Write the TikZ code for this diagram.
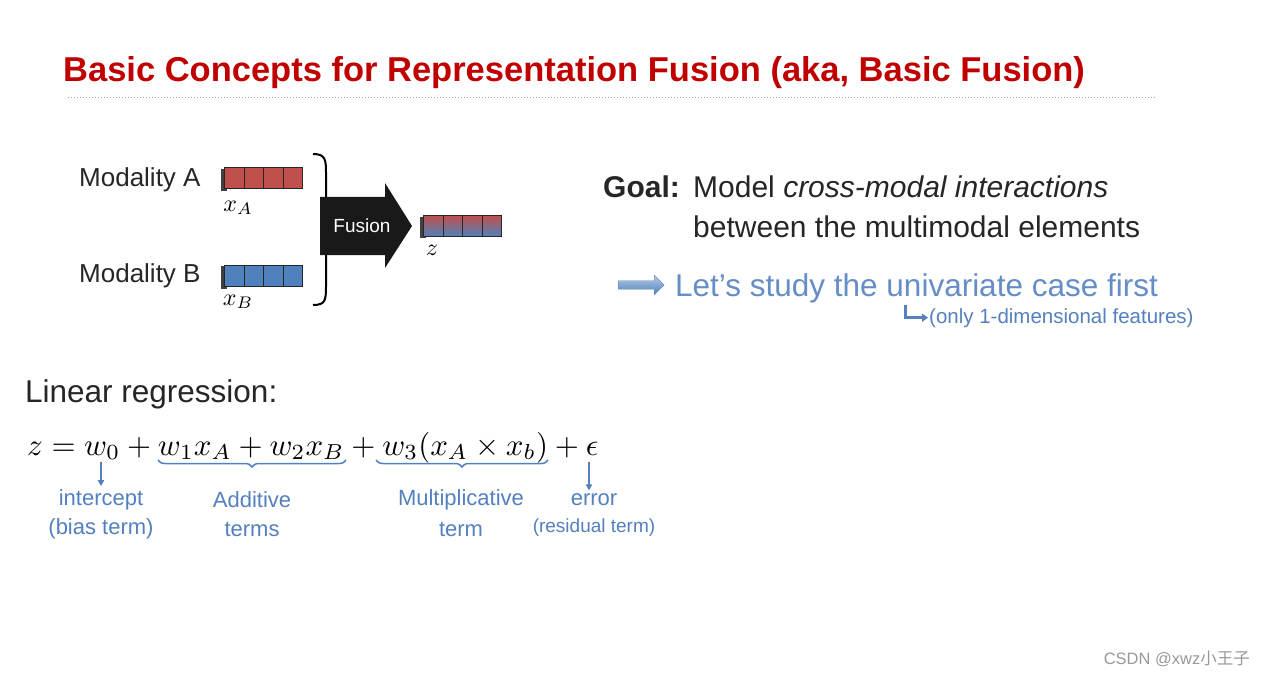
\documentclass[tikz,border=0pt]{standalone}
\usepackage{fontspec}
\usepackage{graphicx}
\setmainfont{Liberation Sans}
\newfontfamily\cjk{Noto Sans CJK SC}
\usetikzlibrary{decorations.pathreplacing,arrows.meta,shapes.arrows}
\definecolor{ttl}{RGB}{192,0,0}
\definecolor{rd}{RGB}{192,80,77}
\definecolor{bl}{RGB}{79,129,189}
\definecolor{lb}{RGB}{84,128,192}
\definecolor{dk}{RGB}{38,38,38}
\newcommand{\fs}[1]{\fontsize{#1}{#1}\selectfont}
\tikzset{
 cell/.style={draw=black!85,line width=1.2pt,minimum width=19.5pt,minimum height=21pt,inner sep=0},
 lbl/.style={text=lb,font=\fs{22}},
 note/.style={-{Triangle[width=6pt,length=6pt]},lb,line width=1.5pt},
}
\begin{document}
\begin{tikzpicture}[x=1pt,y=-1pt]
\useasboundingbox[fill=white] (0,0) rectangle (1265,676);
\node[anchor=base west,text=ttl,font=\bfseries\fs{34.5},inner sep=0] (title) at (63,82) {Basic Concepts for Representation Fusion (aka, Basic Fusion)};
\draw[black!35,dotted,line width=1pt] (68,98) -- (1155,98);
% modalities
\node[anchor=west,font=\fs{26},text=dk,inner sep=0] (ma) at (79,180) {Modality A};
\node[anchor=west,font=\fs{26},text=dk,inner sep=0] (mb) at (79,276) {Modality B};
\fill[black!75] (221,169) rectangle (227,191);
\foreach \i in {0,...,3}{\node[cell,fill=rd,anchor=north west] (a\i) at (224+\i*19.5,167) {};}
\fill[black!75] (221,266) rectangle (227,289);
\foreach \i in {0,...,3}{\node[cell,fill=bl,anchor=north west] (b\i) at (224+\i*19.5,265) {};}
\node (xa) at (238,208) {\scalebox{2.4}{$x_A$}};
\node (xb) at (238,302) {\scalebox{2.4}{$x_B$}};
\draw[line width=2pt] (313,154) .. controls (326,154) and (326,160) .. (326,175) -- (326,284) .. controls (326,300) and (326,305) .. (313,305);
\fill[black!90] (320,197) -- (385,197) -- (385,183) -- (412,226) -- (385,268) -- (385,255) -- (320,255) -- cycle;
\node[text=white,font=\fs{19}] (fu) at (362,226) {Fusion};
\fill[black!75] (420,217) rectangle (426,238);
\foreach \i in {0,...,3}{\node[cell,top color=rd,bottom color=bl,anchor=north west] (z\i) at (423+\i*19.5,215) {};}
\node (zl) at (432,250) {\scalebox{2.4}{$z$}};
% goal
\node[anchor=base west,font=\bfseries\fs{30},text=dk,inner sep=0] (goal) at (603,198) {Goal:};
\node[anchor=base west,font=\fs{30},text=dk,inner sep=0] (g1) at (693,198) {Model \textit{cross-modal interactions}};
\node[anchor=base west,font=\fs{30},text=dk,inner sep=0] (g2) at (693,237) {between the multimodal elements};
\node[single arrow,top color=bl!40,bottom color=bl,draw=bl,minimum height=46pt,minimum width=20pt,single arrow head extend=3pt,inner sep=2pt,anchor=west] (ba) at (618,285) {};
\node[anchor=base west,text=lb!90,font=\fs{31.5},inner sep=0] (lets) at (675,296) {Let’s study the univariate case first};
\node[anchor=base west,text=lb,font=\fs{20.5},inner sep=0] (only) at (929,323) {(only 1-dimensional features)};
\coordinate (e0) at (905,305);
\draw[lb,line width=3pt,-{Triangle[width=8pt,length=6pt]}] (e0) |- ([xshift=-1pt]only.west);
% regression
\node[anchor=base west,font=\fs{31.5},text=dk,inner sep=0] (lr) at (25,402) {Linear regression:};
\node[anchor=base west,inner sep=0] (eq) at (27,455) {\resizebox{571pt}{!}{$z=w_0+w_1x_A+w_2x_B+w_3(x_A\times x_b)+\epsilon$}};
\node[lbl] (ic) at (101,500) {intercept};
\node[lbl] (bt) at (101,529) {(bias term)};
\node[lbl] (ad) at (252,500) {Additive};
\node[lbl] (tm) at (252,529) {terms};
\node[lbl] (mu) at (461,500) {Multiplicative};
\node[lbl] (tm2) at (461,529) {term};
\node[lbl] (er) at (594,500) {error};
\node[lbl,font=\fs{19}] (rt) at (594,528) {(residual term)};
\coordinate (w0) at (101,462);
\coordinate (ep) at (589,462);
\draw[note] (w0) -- (ic.north);
\draw[note] (ep) -- (ep|-er.north);
\draw[lb,line width=1.5pt,decorate,decoration={brace,mirror,amplitude=7pt}] (158,460) -- (346,460);
\draw[lb,line width=1.5pt,decorate,decoration={brace,mirror,amplitude=7pt}] (376,460) -- (548,460);
\node[anchor=base east,text=black!40,font=\fs{16.5},inner sep=0] (wm) at (1250,664) {CSDN @xwz{\cjk 小王子}};
\end{tikzpicture}
\end{document}
